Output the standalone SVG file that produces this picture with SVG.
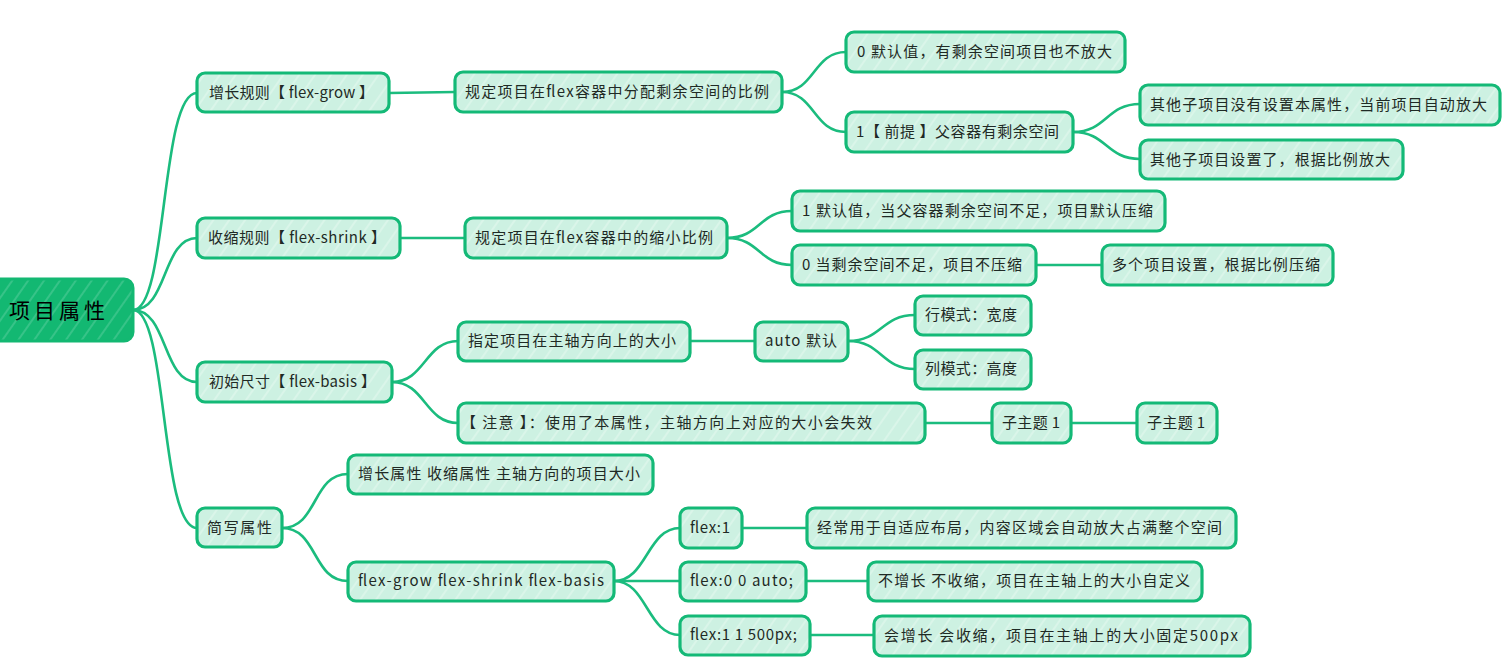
<svg xmlns="http://www.w3.org/2000/svg" width="1510" height="665" viewBox="0 0 1510 665">
<defs>
<pattern id="hatch" width="13" height="13" patternUnits="userSpaceOnUse" patternTransform="rotate(35)">
<rect width="13" height="13" fill="#cdf1e2"/>
<line x1="2" y1="0" x2="2" y2="13" stroke="#ffffff" stroke-width="1" opacity="0.5"/>
</pattern>
<pattern id="hatchRoot" width="13" height="13" patternUnits="userSpaceOnUse" patternTransform="rotate(35)">
<rect width="13" height="13" fill="#13b872"/>
<line x1="2" y1="0" x2="2" y2="13" stroke="#ffffff" stroke-width="1" opacity="0.3"/>
</pattern>
</defs>
<style>
.box{fill:url(#hatch);stroke:#14b977;stroke-width:3.2}
.root{fill:url(#hatchRoot);stroke:#13b872;stroke-width:3}
.t{font-family:"Noto Sans CJK SC","Noto Sans",sans-serif;font-size:15px;fill:#1f2a25}
.rt{font-family:"Noto Sans CJK SC","Noto Sans",sans-serif;font-size:21px;fill:#000000}
.c{fill:none;stroke:#1bbc7e;stroke-width:2.6;stroke-linecap:round}
</style>
<rect width="1510" height="665" fill="#ffffff"/>
<g id="connectors">
<path class="c" d="M133 310 C168 310 160 93 197 93"/>
<path class="c" d="M133 310 C168 310 162 238 197 238"/>
<path class="c" d="M133 310 C168 310 162 382 197 382"/>
<path class="c" d="M133 310 C168 310 160 528 197 528"/>
<path class="c" d="M389 93 L455 92"/>
<path class="c" d="M400 238 L465 238"/>
<path class="c" d="M392 382 C425 382 425 341 458 341"/>
<path class="c" d="M392 382 C425 382 425 423 458 423"/>
<path class="c" d="M282 528 C318 528 312 474 348 474"/>
<path class="c" d="M282 528 C318 528 312 581 348 581"/>
<path class="c" d="M782 92 C815 92 813 52 846 52"/>
<path class="c" d="M782 92 C815 92 813 132 846 132"/>
<path class="c" d="M1073 132 C1107 132 1106 104 1140 104"/>
<path class="c" d="M1073 132 C1107 132 1106 159 1140 159"/>
<path class="c" d="M727 238 C760 238 759 211 792 211"/>
<path class="c" d="M727 238 C760 238 759 265 792 265"/>
<path class="c" d="M1036 265 L1102 265"/>
<path class="c" d="M690 341 L755 341"/>
<path class="c" d="M848 341 C882 341 881 315 915 315"/>
<path class="c" d="M848 341 C882 341 881 369 915 369"/>
<path class="c" d="M925 423 L992 423"/>
<path class="c" d="M1071 423 L1137 423"/>
<path class="c" d="M614 581 C647 581 647 528 680 528"/>
<path class="c" d="M614 581 L680 581"/>
<path class="c" d="M614 581 C647 581 647 635 680 635"/>
<path class="c" d="M742 528 L807 528"/>
<path class="c" d="M806 581 L868 581"/>
<path class="c" d="M810 635 L874 635"/>
</g>
<g id="root"><rect class="root" x="-10" y="279" width="143" height="62" rx="9"/><text class="rt" x="9" y="318" textLength="96" lengthAdjust="spacing">项目属性</text></g>
<g id="n1"><rect class="box" x="197" y="73" width="192" height="39" rx="8"/><text class="t" x="209" y="98" textLength="165" lengthAdjust="spacing">增长规则【 flex-grow 】</text></g>
<g id="n2"><rect class="box" x="197" y="218" width="203" height="40" rx="8"/><text class="t" x="208" y="243" textLength="178" lengthAdjust="spacing">收缩规则【 flex-shrink 】</text></g>
<g id="n3"><rect class="box" x="197" y="362" width="195" height="40" rx="8"/><text class="t" x="209" y="387" textLength="167" lengthAdjust="spacing">初始尺寸【 flex-basis 】</text></g>
<g id="n4"><rect class="box" x="197" y="508" width="85" height="39" rx="8"/><text class="t" x="207" y="533" textLength="65" lengthAdjust="spacing">简写属性</text></g>
<g id="n11"><rect class="box" x="455" y="72" width="327" height="40" rx="8"/><text class="t" x="465" y="97" textLength="304" lengthAdjust="spacing">规定项目在flex容器中分配剩余空间的比例</text></g>
<g id="n111"><rect class="box" x="846" y="32" width="279" height="40" rx="8"/><text class="t" x="857" y="57" textLength="255" lengthAdjust="spacing">0 默认值，有剩余空间项目也不放大</text></g>
<g id="n112"><rect class="box" x="846" y="112" width="227" height="40" rx="8"/><text class="t" x="856" y="137" textLength="203" lengthAdjust="spacing">1【 前提 】父容器有剩余空间</text></g>
<g id="n1121"><rect class="box" x="1140" y="85" width="360" height="40" rx="8"/><text class="t" x="1150" y="110" textLength="337" lengthAdjust="spacing">其他子项目没有设置本属性，当前项目自动放大</text></g>
<g id="n1122"><rect class="box" x="1140" y="140" width="263" height="39" rx="8"/><text class="t" x="1150" y="165" textLength="240" lengthAdjust="spacing">其他子项目设置了，根据比例放大</text></g>
<g id="n21"><rect class="box" x="465" y="218" width="262" height="40" rx="8"/><text class="t" x="475" y="243" textLength="238" lengthAdjust="spacing">规定项目在flex容器中的缩小比例</text></g>
<g id="n211"><rect class="box" x="792" y="191" width="373" height="40" rx="8"/><text class="t" x="802" y="216" textLength="351" lengthAdjust="spacing">1 默认值，当父容器剩余空间不足，项目默认压缩</text></g>
<g id="n212"><rect class="box" x="792" y="245" width="244" height="40" rx="8"/><text class="t" x="802" y="270" textLength="220" lengthAdjust="spacing">0 当剩余空间不足，项目不压缩</text></g>
<g id="n2121"><rect class="box" x="1102" y="245" width="231" height="40" rx="8"/><text class="t" x="1112" y="270" textLength="208" lengthAdjust="spacing">多个项目设置，根据比例压缩</text></g>
<g id="n31"><rect class="box" x="458" y="322" width="232" height="39" rx="8"/><text class="t" x="468" y="346" textLength="208" lengthAdjust="spacing">指定项目在主轴方向上的大小</text></g>
<g id="n311"><rect class="box" x="755" y="322" width="93" height="39" rx="8"/><text class="t" x="765" y="346" textLength="72" lengthAdjust="spacing">auto 默认</text></g>
<g id="n3111"><rect class="box" x="915" y="296" width="116" height="39" rx="8"/><text class="t" x="925" y="320" textLength="92" lengthAdjust="spacing">行模式：宽度</text></g>
<g id="n3112"><rect class="box" x="915" y="350" width="116" height="39" rx="8"/><text class="t" x="925" y="374" textLength="92" lengthAdjust="spacing">列模式：高度</text></g>
<g id="n32"><rect class="box" x="458" y="403" width="467" height="40" rx="8"/><text class="t" x="461" y="428" textLength="411" lengthAdjust="spacing">【 注意 】：使用了本属性，主轴方向上对应的大小会失效</text></g>
<g id="n321"><rect class="box" x="992" y="403" width="79" height="40" rx="8"/><text class="t" x="1002" y="428" textLength="58" lengthAdjust="spacing">子主题 1</text></g>
<g id="n3211"><rect class="box" x="1137" y="403" width="80" height="40" rx="8"/><text class="t" x="1147" y="428" textLength="58" lengthAdjust="spacing">子主题 1</text></g>
<g id="n41"><rect class="box" x="348" y="455" width="305" height="39" rx="8"/><text class="t" x="358" y="479" textLength="282" lengthAdjust="spacing">增长属性 收缩属性 主轴方向的项目大小</text></g>
<g id="n42"><rect class="box" x="348" y="562" width="266" height="39" rx="8"/><text class="t" x="358" y="586" textLength="246" lengthAdjust="spacing">flex-grow flex-shrink flex-basis</text></g>
<g id="n421"><rect class="box" x="680" y="508" width="62" height="40" rx="8"/><text class="t" x="690" y="533" textLength="40" lengthAdjust="spacing">flex:1</text></g>
<g id="n4211"><rect class="box" x="807" y="508" width="429" height="40" rx="8"/><text class="t" x="817" y="533" textLength="405" lengthAdjust="spacing">经常用于自适应布局，内容区域会自动放大占满整个空间</text></g>
<g id="n422"><rect class="box" x="680" y="562" width="126" height="39" rx="8"/><text class="t" x="690" y="586" textLength="103" lengthAdjust="spacing">flex:0 0 auto;</text></g>
<g id="n4221"><rect class="box" x="868" y="562" width="334" height="39" rx="8"/><text class="t" x="878" y="586" textLength="312" lengthAdjust="spacing">不增长 不收缩，项目在主轴上的大小自定义</text></g>
<g id="n423"><rect class="box" x="680" y="616" width="130" height="39" rx="8"/><text class="t" x="690" y="640" textLength="107" lengthAdjust="spacing">flex:1 1 500px;</text></g>
<g id="n4231"><rect class="box" x="874" y="616" width="376" height="40" rx="8"/><text class="t" x="884" y="641" textLength="354" lengthAdjust="spacing">会增长 会收缩，项目在主轴上的大小固定500px</text></g>
</svg>
